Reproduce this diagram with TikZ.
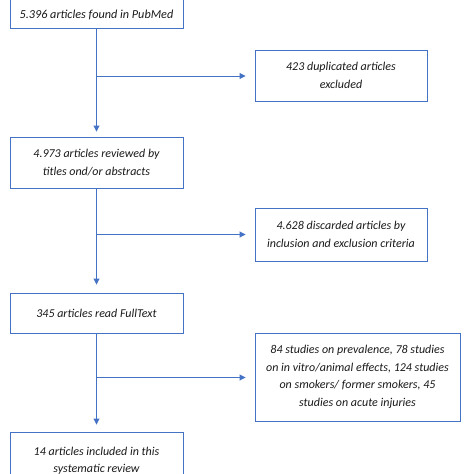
\documentclass[tikz,border=0pt]{standalone}
\usepackage{fontspec}
\setmainfont{Carlito}
\usetikzlibrary{arrows.meta}
\definecolor{flowblue}{HTML}{4472C4}
\begin{document}
\begin{tikzpicture}[x=1pt,y=-1pt,
  every node/.style={font=\fontsize{12}{17.5}\selectfont\itshape, align=center, inner sep=0pt, text=black!90},
  mainbox/.style={draw=flowblue, line width=0.9pt, minimum width=173pt},
  sidebox/.style={draw=flowblue, line width=0.9pt},
  flow/.style={draw=flowblue, line width=0.9pt},
  arr/.style={flow, -{Triangle[length=6pt,width=6pt]}}
]
\useasboundingbox (0,0) rectangle (474,474);
\begin{scope}
\clip (0,0) rectangle (474,474);
\node[mainbox, minimum height=40pt, text height=20pt, text depth=0pt, font=\fontsize{12.2}{17.5}\selectfont\itshape] (b1) at (96.5,8) {5.396 articles found in PubMed};
\node[mainbox, minimum height=51pt] (b3) at (96.5,162.5) {4.973 articles reviewed by\\titles ond/or abstracts};
\node[mainbox, minimum height=40pt] (b5) at (96.5,313) {345 articles read FullText};
\node[mainbox, minimum height=58pt] (b7) at (96.5,461) {14 articles included in this\\systematic review};
\node[sidebox, minimum width=172pt, minimum height=51pt] (b2) at (341,75.5) {423 duplicated articles\\excluded};
\node[sidebox, minimum width=172pt, minimum height=53pt] (b4) at (341,234.5) {4.628 discarded articles by\\inclusion and exclusion criteria};
\node[sidebox, minimum width=205pt, minimum height=88pt] (b6) at (357.5,377) {84 studies on prevalence, 78 studies\\on in vitro/animal effects, 124 studies\\on smokers/ former smokers, 45\\studies on acute injuries};
\coordinate (j1) at (96.5,76);
\coordinate (j2) at (96.5,234.5);
\coordinate (j3) at (96.5,377.5);
\draw[arr, shorten >=5pt] (b1.south) -- (b3.north);
\draw[arr, shorten >=8pt] (b3.south) -- (b5.north);
\draw[arr, shorten >=7pt] (b5.south) -- (b7.north);
\draw[arr, shorten >=9pt] (j1) -- (b2.west |- j1);
\draw[arr, shorten >=9pt] (j2) -- (b4.west |- j2);
\draw[arr, shorten >=9pt] (j3) -- (b6.west |- j3);
\end{scope}
\end{tikzpicture}
\end{document}
